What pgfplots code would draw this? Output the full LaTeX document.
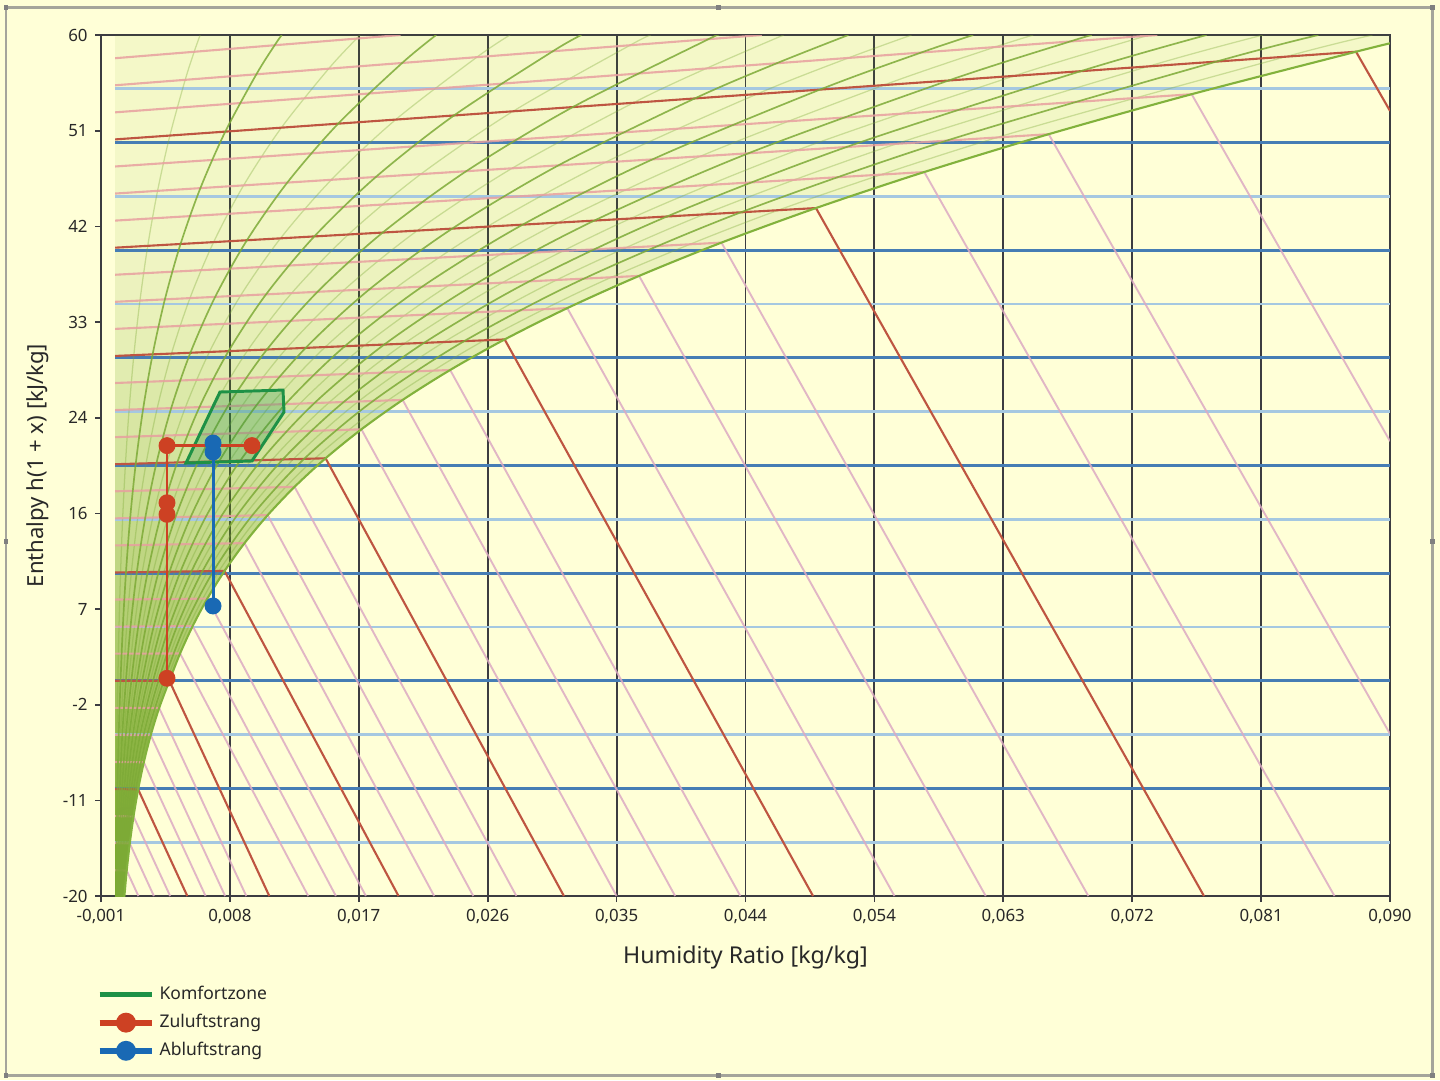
\documentclass[border=0pt]{standalone}
\usepackage{pgfplots}
\pgfplotsset{compat=1.18}
\usepackage{fontspec}
\setmainfont{Noto Sans}
\definecolor{bgy}{RGB}{255,255,215}
\definecolor{framec}{RGB}{165,165,155}
\definecolor{gridk}{RGB}{60,60,65}
\definecolor{textc}{RGB}{40,40,40}
\definecolor{bluethick}{RGB}{70,125,180}
\definecolor{bluethin}{RGB}{165,200,225}
\definecolor{isothick}{RGB}{190,85,65}
\definecolor{isothin}{RGB}{232,160,160}
\definecolor{fogthin}{RGB}{220,170,195}
\definecolor{phig}{RGB}{125,170,55}
\definecolor{satg}{RGB}{130,178,60}
\definecolor{fillg}{RGB}{100,156,10}
\definecolor{zoneg}{RGB}{30,145,70}
\definecolor{zured}{RGB}{205,65,35}
\definecolor{abblue}{RGB}{25,105,180}
\pgfplotsset{
  band/.style={draw=none, fill=fillg, fill opacity=#1, forget plot},
  bthick/.style={bluethick, line width=1.4pt, forget plot},
  bthin/.style={bluethin, line width=1.3pt, forget plot},
  ithick/.style={isothick, line width=1pt, forget plot},
  ithin/.style={isothin, line width=1pt, opacity=0.85, forget plot},
  fthin/.style={fogthin, line width=0.9pt, opacity=0.85, forget plot},
  phil/.style={phig, line width=0.8pt, opacity=0.85, smooth, forget plot},
  phif/.style={phig, line width=0.6pt, opacity=0.35, smooth, forget plot},
}
\begin{document}
\begin{tikzpicture}
\fill[bgy] (0,0) rectangle (24,18);
\draw[framec, line width=1.3pt] (0.1,0.07) rectangle (23.87,17.87);
\foreach \p in {(0.1,0.07),(11.97,0.07),(23.87,0.07),(0.1,8.98),(23.87,8.98),(0.1,17.87),(11.97,17.87),(23.87,17.87)}
  {\fill[gray] \p ++(-0.04,-0.04) rectangle ++(0.08,0.08);}
\begin{axis}[
  at={(1.6833cm,3.0667cm)}, anchor=south west,
  scale only axis, width=21.4833cm, height=14.35cm,
  xmin=-0.001, xmax=0.09, ymin=-20, ymax=60,
  axis background/.style={fill=bgy},
  axis line style={gridk, line width=1pt},
  tick style={gridk, line width=0.8pt},
  tick align=outside, major tick length=0.1cm, tick pos=left,
  scaled x ticks=false, scaled y ticks=false,
  xtick={-0.001,0.0081,0.0172,0.0263,0.0354,0.0445,0.0536,0.0627,0.0718,0.0809,0.09},
  xticklabels={{-0,001},{0,008},{0,017},{0,026},{0,035},{0,044},{0,054},{0,063},{0,072},{0,081},{0,090}},
  ytick={-20,-11.1111,-2.2222,6.6667,15.5556,24.4444,33.3333,42.2222,51.1111,60},
  yticklabels={-20,-11,-2,7,16,24,33,42,51,60},
  ticklabel style={font=\fontsize{8}{9.6}\selectfont, color=textc},
  xmajorgrids, major grid style={gridk, line width=0.9pt},
  xlabel={Humidity Ratio [kg/kg]},
  ylabel={Enthalpy h(1 + x) [kJ/kg]},
  every axis x label/.style={at={(axis description cs:0.5,-0.0708)}, anchor=center, font=\fontsize{11}{13}\selectfont, color=textc},
  every axis y label/.style={at={(axis description cs:-0.0489,0.5)}, rotate=90, anchor=center, font=\fontsize{10.5}{12}\selectfont, color=textc},
  legend style={at={(axis description cs:-0.0086,-0.0945)}, anchor=north west, draw=none, fill=none,
    font=\fontsize{8.3}{10}\selectfont, row sep=1.5pt, text=textc},
  legend cell align=left,
  legend image code/.code={\draw[mark repeat=2,mark phase=2,#1] plot coordinates {(0cm,0cm) (0.44cm,0cm) (0.88cm,0cm)};},
]
% ---- saturation-region tint bands ----
\addplot[band=0.88] coordinates {(0,-20.12)(0.000643,-20.144)(0.000815,-17.632)(0,-17.605)} -- cycle;
\addplot[band=0.84] coordinates {(0,-17.605)(0.000815,-17.632)(0.001030,-15.119)(0,-15.09)} -- cycle;
\addplot[band=0.80] coordinates {(0,-15.09)(0.001030,-15.119)(0.001295,-12.605)(0,-12.575)} -- cycle;
\addplot[band=0.76] coordinates {(0,-12.575)(0.001295,-12.605)(0.001621,-10.090)(0,-10.06)} -- cycle;
\addplot[band=0.72] coordinates {(0,-10.06)(0.001621,-10.090)(0.002021,-7.573)(0,-7.545)} -- cycle;
\addplot[band=0.68] coordinates {(0,-7.545)(0.002021,-7.573)(0.002509,-5.053)(0,-5.03)} -- cycle;
\addplot[band=0.64] coordinates {(0,-5.03)(0.002509,-5.053)(0.003104,-2.529)(0,-2.515)} -- cycle;
\addplot[band=0.60] coordinates {(0,-2.515)(0.003104,-2.529)(0.003825,0)(0,0)} -- cycle;
\addplot[band=0.56] coordinates {(0,0)(0.003825,0)(0.004582,2.536)(0,2.515)} -- cycle;
\addplot[band=0.52] coordinates {(0,2.515)(0.004582,2.536)(0.005470,5.081)(0,5.03)} -- cycle;
\addplot[band=0.48] coordinates {(0,5.03)(0.005470,5.081)(0.006509,7.636)(0,7.545)} -- cycle;
\addplot[band=0.44] coordinates {(0,7.545)(0.006509,7.636)(0.007721,10.204)(0,10.06)} -- cycle;
\addplot[band=0.41] coordinates {(0,10.06)(0.007721,10.204)(0.009131,12.787)(0,12.575)} -- cycle;
\addplot[band=0.37] coordinates {(0,12.575)(0.009131,12.787)(0.010768,15.390)(0,15.09)} -- cycle;
\addplot[band=0.34] coordinates {(0,15.09)(0.010768,15.390)(0.012664,18.017)(0,17.605)} -- cycle;
\addplot[band=0.31] coordinates {(0,17.605)(0.012664,18.017)(0.014855,20.673)(0,20.12)} -- cycle;
\addplot[band=0.28] coordinates {(0,20.12)(0.014855,20.673)(0.017384,23.363)(0,22.635)} -- cycle;
\addplot[band=0.25] coordinates {(0,22.635)(0.017384,23.363)(0.020297,26.094)(0,25.15)} -- cycle;
\addplot[band=0.22] coordinates {(0,25.15)(0.020297,26.094)(0.023650,28.875)(0,27.665)} -- cycle;
\addplot[band=0.19] coordinates {(0,27.665)(0.023650,28.875)(0.027498,31.714)(0,30.18)} -- cycle;
\addplot[band=0.16] coordinates {(0,30.18)(0.027498,31.714)(0.031918,34.625)(0,32.695)} -- cycle;
\addplot[band=0.14] coordinates {(0,32.695)(0.031918,34.625)(0.036988,37.618)(0,35.21)} -- cycle;
\addplot[band=0.12] coordinates {(0,35.21)(0.036988,37.618)(0.042803,40.711)(0,37.725)} -- cycle;
\addplot[band=0.10] coordinates {(0,37.725)(0.042803,40.711)(0.049474,43.921)(0,40.24)} -- cycle;
\addplot[band=0.09] coordinates {(0,40.24)(0.049474,43.921)(0.057122,47.270)(0,42.755)} -- cycle;
\addplot[band=0.08] coordinates {(0,42.755)(0.057122,47.270)(0.065904,50.786)(0,45.27)} -- cycle;
\addplot[band=0.08] coordinates {(0,45.27)(0.065904,50.786)(0.075997,54.500)(0,47.785)} -- cycle;
\addplot[band=0.07] coordinates {(0,47.785)(0.075997,54.500)(0.087602,58.447)(0,50.3)} -- cycle;
\addplot[band=0.07] coordinates {(0,50.3)(0.087602,58.447)(0.100998,62.678)(0,52.815)} -- cycle;
\addplot[band=0.07] coordinates {(0,52.815)(0.100998,62.678)(0.101,65)(0,65)} -- cycle;
% ---- horizontal blue lines ----
\addplot[bthin] coordinates {(0,-15)(0.09,-15)};
\addplot[bthick] coordinates {(0,-10)(0.09,-10)};
\addplot[bthin] coordinates {(0,-5)(0.09,-5)};
\addplot[bthick] coordinates {(0,0)(0.09,0)};
\addplot[bthin] coordinates {(0,5)(0.09,5)};
\addplot[bthick] coordinates {(0,10)(0.09,10)};
\addplot[bthin] coordinates {(0,15)(0.09,15)};
\addplot[bthick] coordinates {(0,20)(0.09,20)};
\addplot[bthin] coordinates {(0,25)(0.09,25)};
\addplot[bthick] coordinates {(0,30)(0.09,30)};
\addplot[bthin] coordinates {(0,35)(0.09,35)};
\addplot[bthick] coordinates {(0,40)(0.09,40)};
\addplot[bthin] coordinates {(0,45)(0.09,45)};
\addplot[bthick] coordinates {(0,50)(0.09,50)};
\addplot[bthin] coordinates {(0,55)(0.09,55)};
% ---- fine relative humidity curves (5 %, 15 %, ... 95 %) ----
\addplot[phif] coordinates {(0.0000321,-20.12)(0.0000514,-15.09)(0.0000808,-10.06)(0.0001250,-5.03)(0.0001901,0)(0.0002712,5.033)(0.0003816,10.067)(0.0005297,15.105)(0.0007263,20.147)(0.0009843,25.196)(0.0013195,30.254)(0.0017505,35.324)(0.0023000,40.411)(0.0029938,45.521)(0.0038633,50.659)(0.0049448,55.836)(0.0055784,58.442)(0.00600,60)};
\addplot[phif] coordinates {(0.0000964,-20.12)(0.000154,-15.09)(0.0002426,-10.065)(0.0003750,-5.033)(0.0005708,0)(0.0008144,5.038)(0.0011460,10.081)(0.0015918,15.134)(0.0021839,20.201)(0.0029623,25.288)(0.0039753,30.402)(0.0052813,35.554)(0.0069512,40.757)(0.0090687,46.029)(0.0117355,51.391)(0.0150741,56.872)(0.0170410,59.668)(0.01730,60)};
\addplot[phif] coordinates {(0.0001606,-20.12)(0.000257,-15.10)(0.0004044,-10.068)(0.0006253,-5.036)(0.0009519,0)(0.0013585,5.043)(0.0019125,10.096)(0.0026575,15.164)(0.0036485,20.256)(0.0049529,25.380)(0.0066540,30.551)(0.0088523,35.786)(0.0116723,41.108)(0.0152630,46.548)(0.0198083,52.142)(0.0255361,57.942)(0.02787,60)};
\addplot[phif] coordinates {(0.0002249,-20.12)(0.000360,-15.10)(0.0005663,-10.071)(0.0008757,-5.038)(0.0013334,0)(0.0019035,5.048)(0.0026807,10.110)(0.0037268,15.194)(0.0051199,20.310)(0.0069562,25.473)(0.0093556,30.702)(0.0124642,36.021)(0.0164648,41.465)(0.0215799,47.076)(0.0280894,52.912)(0.0363477,59.048)(0.03781,60)};
\addplot[phif] coordinates {(0.0002892,-20.13)(0.000463,-15.10)(0.0007284,-10.074)(0.0011264,-5.040)(0.0017155,0)(0.0024495,5.053)(0.0034508,10.124)(0.0047999,15.224)(0.0065983,20.365)(0.0089724,25.567)(0.0120806,30.854)(0.0161176,36.259)(0.0213303,41.827)(0.0280234,47.616)(0.0365874,53.703)(0.041723,56.889)(0.04719,60)};
\addplot[phif] coordinates {(0.0003535,-20.13)(0.000566,-15.11)(0.0008904,-10.077)(0.0013773,-5.043)(0.0020980,0)(0.0029965,5.058)(0.0042229,10.139)(0.0058765,15.254)(0.0080835,20.421)(0.0110016,25.662)(0.0148291,31.007)(0.0198133,36.500)(0.0262706,42.195)(0.0345970,48.166)(0.0453096,54.514)(0.051766,57.870)(0.05622,60)};
\addplot[phif] coordinates {(0.0004177,-20.13)(0.000669,-15.11)(0.0010526,-10.080)(0.0016284,-5.045)(0.0024810,0)(0.0035444,5.063)(0.0049969,10.153)(0.0069570,15.284)(0.0095759,20.476)(0.0130438,25.757)(0.0176016,31.162)(0.0235522,36.743)(0.0312873,42.568)(0.0413052,48.727)(0.0542667,55.347)(0.062118,58.881)(0.06481,60)};
\addplot[phif] coordinates {(0.000482,-20.13)(0.000772,-15.11)(0.0012149,-10.083)(0.0018797,-5.047)(0.0028644,0)(0.0040933,5.068)(0.0057728,10.167)(0.0080411,15.314)(0.0110754,20.532)(0.0150993,25.852)(0.0203984,31.318)(0.0273349,36.990)(0.0363823,42.947)(0.0481516,49.300)(0.0634673,56.202)(0.07300,60)};
\addplot[phif] coordinates {(0.0005463,-20.14)(0.000875,-15.11)(0.0013772,-10.086)(0.0021311,-5.050)(0.0032483,0)(0.0046431,5.073)(0.0065507,10.182)(0.0091289,15.345)(0.0125820,20.588)(0.0171680,25.948)(0.0232196,31.476)(0.0311624,37.239)(0.0415573,43.332)(0.0551416,49.885)(0.0729217,57.082)(0.08103,60)};
\addplot[phif] coordinates {(0.0006106,-20.14)(0.000978,-15.12)(0.0015396,-10.089)(0.0023828,-5.052)(0.0036327,0)(0.0051939,5.078)(0.0073304,10.196)(0.0102206,15.375)(0.0140959,20.644)(0.0192503,26.045)(0.0260663,31.635)(0.0350348,37.491)(0.0468144,43.723)(0.0622779,50.483)(0.0826401,57.985)(0.08877,60)};
% ---- thin isotherms (unsaturated part, fog part) ----
\addplot[ithin] coordinates {(0,-17.605)(0.000815,-17.632)}; \addplot[fthin] coordinates {(0.000815,-17.632)(0.001640,-20)};
\addplot[ithin] coordinates {(0,-15.09)(0.001030,-15.119)}; \addplot[fthin] coordinates {(0.001030,-15.119)(0.002734,-20)};
\addplot[ithin] coordinates {(0,-12.575)(0.001295,-12.605)}; \addplot[fthin] coordinates {(0.001295,-12.605)(0.003881,-20)};
\addplot[ithin] coordinates {(0,-7.545)(0.002021,-7.573)}; \addplot[fthin] coordinates {(0.002021,-7.573)(0.006382,-20)};
\addplot[ithin] coordinates {(0,-5.03)(0.002509,-5.053)}; \addplot[fthin] coordinates {(0.002509,-5.053)(0.007763,-20)};
\addplot[ithin] coordinates {(0,-2.515)(0.003104,-2.529)}; \addplot[fthin] coordinates {(0.003104,-2.529)(0.009257,-20)};
\addplot[ithin] coordinates {(0,2.515)(0.004582,2.536)}; \addplot[fthin] coordinates {(0.004582,2.536)(0.013631,-20)};
\addplot[ithin] coordinates {(0,5.03)(0.005470,5.081)}; \addplot[fthin] coordinates {(0.005470,5.081)(0.015583,-20)};
\addplot[ithin] coordinates {(0,7.545)(0.006509,7.636)}; \addplot[fthin] coordinates {(0.006509,7.636)(0.017700,-20)};
\addplot[ithin] coordinates {(0,12.575)(0.009131,12.787)}; \addplot[fthin] coordinates {(0.009131,12.787)(0.022521,-20)};
\addplot[ithin] coordinates {(0,15.09)(0.010768,15.390)}; \addplot[fthin] coordinates {(0.010768,15.390)(0.025283,-20)};
\addplot[ithin] coordinates {(0,17.605)(0.012664,18.017)}; \addplot[fthin] coordinates {(0.012664,18.017)(0.028324,-20)};
\addplot[ithin] coordinates {(0,22.635)(0.017384,23.363)}; \addplot[fthin] coordinates {(0.017384,23.363)(0.035401,-20)};
\addplot[ithin] coordinates {(0,25.15)(0.020297,26.094)}; \addplot[fthin] coordinates {(0.020297,26.094)(0.039533,-20)};
\addplot[ithin] coordinates {(0,27.665)(0.023650,28.875)}; \addplot[fthin] coordinates {(0.023650,28.875)(0.044136,-20)};
\addplot[ithin] coordinates {(0,32.695)(0.031918,34.625)}; \addplot[fthin] coordinates {(0.031918,34.625)(0.055017,-20)};
\addplot[ithin] coordinates {(0,35.21)(0.036988,37.618)}; \addplot[fthin] coordinates {(0.036988,37.618)(0.061461,-20)};
\addplot[ithin] coordinates {(0,37.725)(0.042803,40.711)}; \addplot[fthin] coordinates {(0.042803,40.711)(0.068705,-20)};
\addplot[ithin] coordinates {(0,42.755)(0.057122,47.270)}; \addplot[fthin] coordinates {(0.057122,47.270)(0.086082,-20)};
\addplot[ithin] coordinates {(0,45.27)(0.065904,50.786)}; \addplot[fthin] coordinates {(0.065904,50.786)(0.09,-4.934)};
\addplot[ithin] coordinates {(0,47.785)(0.075997,54.500)}; \addplot[fthin] coordinates {(0.075997,54.500)(0.09,22.265)};
\addplot[ithin] coordinates {(0,52.815)(0.07358,60)};
\addplot[ithin] coordinates {(0,55.33)(0.04565,60)};
\addplot[ithin] coordinates {(0,57.845)(0.02015,60)};
% ---- thick isotherms ----
\addplot[ithick] coordinates {(0,-10.06)(0.001621,-10.090)(0.005092,-20)};
\addplot[ithick] coordinates {(0,0)(0.003825,0)(0.010881,-20)};
\addplot[ithick] coordinates {(0,10.06)(0.007721,10.204)(0.020004,-20)};
\addplot[ithick] coordinates {(0,20.12)(0.014855,20.673)(0.031681,-20)};
\addplot[ithick] coordinates {(0,30.18)(0.027498,31.714)(0.049270,-20)};
\addplot[ithick] coordinates {(0,40.24)(0.049474,43.921)(0.076868,-20)};
\addplot[ithick] coordinates {(0,50.3)(0.087602,58.447)(0.09,52.952)};
% ---- relative humidity curves 10 % ... 90 % ----
\addplot[phil] coordinates {(0.0000643,-20.12)(0.000103,-15.09)(0.000162,-10.06)(0.000250,-5.03)(0.000380,0)(0.000543,5.035)(0.000764,10.074)(0.001060,15.120)(0.001454,20.174)(0.001972,25.242)(0.002645,30.328)(0.003511,35.439)(0.004617,40.583)(0.006017,45.774)(0.007775,51.023)(0.009969,56.350)(0.011258,59.049)(0.01176,60)};
\addplot[phil] coordinates {(0.000129,-20.12)(0.000206,-15.10)(0.000323,-10.07)(0.000500,-5.04)(0.000761,0)(0.001086,5.040)(0.001529,10.088)(0.002124,15.149)(0.002915,20.228)(0.003956,25.334)(0.005312,30.476)(0.007062,35.670)(0.009303,40.932)(0.012151,46.287)(0.015746,51.764)(0.020263,57.403)(0.02266,60)};
\addplot[phil] coordinates {(0.000193,-20.12)(0.000309,-15.10)(0.000485,-10.07)(0.000751,-5.04)(0.001143,0)(0.001631,5.045)(0.002296,10.103)(0.003192,15.179)(0.004383,20.283)(0.005953,25.427)(0.008002,30.627)(0.010653,35.904)(0.014060,41.286)(0.018406,46.811)(0.023922,52.525)(0.030897,58.491)(0.03291,60)};
\addplot[phil] coordinates {(0.000257,-20.13)(0.000412,-15.10)(0.000647,-10.07)(0.001001,-5.04)(0.001524,0)(0.002176,5.050)(0.003066,10.117)(0.004263,15.209)(0.005858,20.338)(0.007963,25.520)(0.010715,30.778)(0.014286,36.140)(0.018888,41.645)(0.024786,47.345)(0.032311,53.305)(0.041889,59.615)(0.04255,60)};
\addplot[phil] coordinates {(0.000321,-20.13)(0.000515,-15.10)(0.000809,-10.08)(0.001252,-5.04)(0.001907,0)(0.002723,5.055)(0.003837,10.131)(0.005338,15.239)(0.007340,20.393)(0.009985,25.614)(0.013452,30.931)(0.017960,36.379)(0.023794,42.010)(0.031294,47.889)(0.040919,54.106)(0.046706,57.376)(0.05176,60)};
\addplot[phil] coordinates {(0.000386,-20.13)(0.000618,-15.11)(0.000970,-10.08)(0.001503,-5.04)(0.002289,0)(0.003270,5.060)(0.004610,10.146)(0.006416,15.269)(0.008829,20.448)(0.012021,25.709)(0.016212,31.085)(0.021677,36.621)(0.028769,42.380)(0.037935,48.445)(0.049758,54.928)(0.056903,58.372)(0.06057,60)};
\addplot[phil] coordinates {(0.000450,-20.13)(0.000721,-15.11)(0.001132,-10.08)(0.001754,-5.05)(0.002673,0)(0.003819,5.066)(0.005385,10.160)(0.007499,15.299)(0.010325,20.504)(0.014070,25.804)(0.018997,31.240)(0.025438,36.866)(0.033825,42.757)(0.044711,49.012)(0.058836,55.772)(0.067414,59.398)(0.06895,60)};
\addplot[phil] coordinates {(0.000514,-20.14)(0.000824,-15.11)(0.001294,-10.08)(0.002005,-5.05)(0.003056,0)(0.004368,5.071)(0.006161,10.175)(0.008585,15.330)(0.011828,20.560)(0.016132,25.900)(0.021806,31.397)(0.029243,37.114)(0.038960,43.139)(0.051629,49.591)(0.068162,56.639)(0.07705,60)};
\addplot[phil] coordinates {(0.000579,-20.14)(0.000927,-15.12)(0.001456,-10.09)(0.002257,-5.05)(0.003440,0)(0.004918,5.076)(0.006940,10.189)(0.009674,15.360)(0.013338,20.616)(0.018207,25.997)(0.024640,31.555)(0.033093,37.364)(0.044176,43.527)(0.058692,50.182)(0.077747,57.530)(0.08494,60)};
\addplot[satg, line width=1pt, smooth, forget plot] coordinates {(0.000643,-20.144)(0.000815,-17.632)(0.001030,-15.119)(0.001295,-12.605)(0.001621,-10.090)(0.002021,-7.573)(0.002509,-5.053)(0.003104,-2.529)(0.003825,0)(0.004582,2.536)(0.005470,5.081)(0.006509,7.636)(0.007721,10.204)(0.009131,12.787)(0.010768,15.390)(0.012664,18.017)(0.014855,20.673)(0.017384,23.363)(0.020297,26.094)(0.023650,28.875)(0.027498,31.714)(0.031918,34.625)(0.036988,37.618)(0.042803,40.711)(0.049474,43.921)(0.057122,47.270)(0.065904,50.786)(0.075997,54.500)(0.087602,58.447)(0.090129,59.269)};
% ---- comfort zone and process lines ----
\addplot[zoneg, line width=1.4pt, fill=zoneg, fill opacity=0.28, forget plot] coordinates {(0.0050,20.23)(0.0074,26.83)(0.01185,27.01)(0.01192,24.97)(0.00966,20.42)} -- cycle;
\addplot[zured, line width=1.4pt, mark=*, mark size=3.3pt, mark options={fill=zured, draw=zured}, forget plot] coordinates {(0.00366,0.23)(0.00366,15.46)(0.00366,16.54)(0.00366,21.85)(0.00966,21.85)};
\addplot[abblue, line width=1.4pt, mark=*, mark size=3.3pt, mark options={fill=abblue, draw=abblue}, forget plot] coordinates {(0.00691,22.09)(0.00691,21.25)(0.00691,6.95)};
% ---- legend ----
\addlegendimage{zoneg, line width=2.8pt}
\addlegendentry{Komfortzone}
\addlegendimage{zured, line width=2.8pt, mark=*, mark size=3.3pt, mark options={fill=zured}}
\addlegendentry{Zuluftstrang}
\addlegendimage{abblue, line width=2.8pt, mark=*, mark size=3.3pt, mark options={fill=abblue}}
\addlegendentry{Abluftstrang}
\end{axis}
\end{tikzpicture}
\end{document}
